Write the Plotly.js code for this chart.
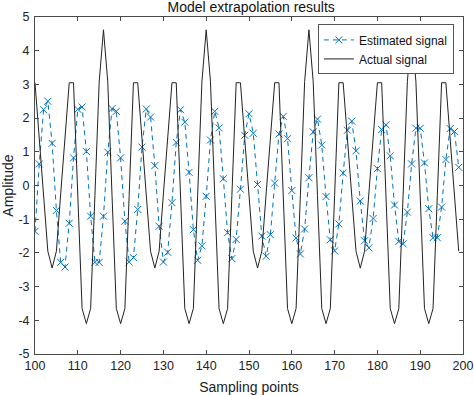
<!DOCTYPE html>
<html>
<head>
<meta charset="utf-8">
<script src="https://cdn.plot.ly/plotly-3.0.1.min.js"></script>
<style>html,body{margin:0;padding:0;background:#fff;}#chart{width:474px;height:395px;}</style>
</head>
<body>
<div id="chart"></div>
<script>
// Sampling points 100..199
var samplingPoints = [100,101,102,103,104,105,106,107,108,109,110,111,112,113,114,115,116,117,118,119,120,121,122,123,124,125,126,127,128,129,130,131,132,133,134,135,136,137,138,139,140,141,142,143,144,145,146,147,148,149,150,151,152,153,154,155,156,157,158,159,160,161,162,163,164,165,166,167,168,169,170,171,172,173,174,175,176,177,178,179,180,181,182,183,184,185,186,187,188,189,190,191,192,193,194,195,196,197,198,199];

var estimatedSignal = [
 -1.36, 0.64, 2.25, 2.50, 1.25, -0.74, -2.28, -2.42, -1.12, 0.82,
  2.26, 2.33, 1.01, -0.91, -2.28, -2.28, -0.91, 0.99, 2.28, 2.20,
  0.82, -1.06, -2.27, -2.14, -0.71, 1.14, 2.27, 2.03, 0.59, -1.21,
 -2.27, -1.98, -0.51, 1.28, 2.25, 1.88, 0.39, -1.31, -2.22, -1.79,
 -0.32, 1.35, 2.20, 1.71, 0.20, -1.40, -2.17, -1.60, -0.11, 1.49,
  2.13, 1.55, 0.03, -1.50, -2.10, -1.46, 0.07, 1.53, 2.05, 1.39,
 -0.15, -1.56, -2.03, -1.29, 0.23, 1.59, 1.97, 1.20, -0.33, -1.61,
 -1.94, -1.14, 0.37, 1.64, 1.91, 1.03, -0.46, -1.64, -1.85, -0.98,
  0.50, 1.66, 1.80, 0.88, -0.58, -1.66, -1.73, -0.79, 0.64, 1.70,
  1.70, 0.67, -0.69, -1.55, -1.55, -0.64, 0.77, 1.69, 1.60, 0.54
];

var actualSignal = [
  3.05, 1.45, -0.25, -1.95, -2.45, -1.95, -0.25, 1.45, 3.05, 3.05,
 -0.30, -3.65, -4.10, -3.65, -0.30, 3.08, 4.62, 3.08, -0.30, -3.65,
 -4.10, -3.65, -0.30, 3.05, 3.05, 1.45, -0.25, -1.95, -2.45, -1.95,
 -0.25, 1.45, 3.05, 3.05, -0.30, -3.65, -4.10, -3.65, -0.30, 3.08,
  4.62, 3.08, -0.30, -3.65, -4.10, -3.65, -0.30, 3.05, 3.05, 1.45,
 -0.25, -1.95, -2.45, -1.95, -0.25, 1.45, 3.05, 3.05, -0.30, -3.65,
 -4.10, -3.65, -0.30, 3.08, 4.62, 3.08, -0.30, -3.65, -4.10, -3.65,
 -0.30, 3.05, 3.05, 1.45, -0.25, -1.95, -2.45, -1.95, -0.25, 1.45,
  3.05, 3.05, -0.30, -3.65, -4.10, -3.65, -0.30, 3.08, 4.62, 3.08,
 -0.30, -3.65, -4.10, -3.65, -0.30, 3.05, 3.05, 1.45, -0.25, -1.95
];

var seriesNames = ["Estimated signal", "Actual signal"];
var xTicks = [100,110,120,130,140,150,160,170,180,190,200];
var yTicks = [-5,-4,-3,-2,-1,0,1,2,3,4,5];

var font = "Liberation Sans, Arial, Helvetica, sans-serif";
var axisColor = "#4a4a4a";

var traces = [
  {
    x: samplingPoints, y: estimatedSignal, name: seriesNames[0],
    type: "scatter", mode: "lines+markers",
    line: {color: "#0072BD", width: 1, dash: "5px,4px"},
    marker: {symbol: "x-thin", size: 7, color: "#0072BD", line: {color: "#0072BD", width: 1}}
  },
  {
    x: samplingPoints, y: actualSignal, name: seriesNames[1],
    type: "scatter", mode: "lines",
    line: {color: "#222222", width: 1}
  }
];

var layout = {
  width: 474, height: 395,
  margin: {l: 35, r: 11, t: 17, b: 41, pad: 0},
  paper_bgcolor: "#ffffff", plot_bgcolor: "#ffffff",
  font: {family: font, size: 12, color: "#222"},
  showlegend: true,
  title: {text: "Model extrapolation results", font: {family: font, size: 14, color: "#111"},
          x: 0.53, xanchor: "center", y: 0.981, yanchor: "middle", yref: "container"},
  xaxis: {
    range: [100, 200], tickvals: xTicks, ticktext: xTicks.map(String),
    showgrid: false, zeroline: false, showline: true, linecolor: axisColor, linewidth: 1,
    mirror: "ticks", ticks: "inside", ticklen: 4, tickwidth: 1, tickcolor: axisColor,
    tickfont: {family: font, size: 12.5, color: "#222"},
    title: {text: "Sampling points", font: {family: font, size: 14, color: "#222"}, standoff: 10},
    automargin: false
  },
  yaxis: {
    range: [-5, 5], tickvals: yTicks, ticktext: yTicks.map(String),
    showgrid: false, zeroline: false, showline: true, linecolor: axisColor, linewidth: 1,
    mirror: "ticks", ticks: "inside", ticklen: 4, tickwidth: 1, tickcolor: axisColor,
    tickfont: {family: font, size: 12.5, color: "#222"},
    ticklabelstandoff: 2,
    title: {text: "Amplitude", font: {family: font, size: 14, color: "#222"}, standoff: 2},
    automargin: false
  },
  legend: {
    x: 0.661, y: 0.978, xanchor: "left", yanchor: "top",
    bgcolor: "#ffffff", bordercolor: "#555555", borderwidth: 1,
    font: {family: font, size: 12, color: "#111"},
    tracegroupgap: 0, itemwidth: 30
  }
};

Plotly.newPlot("chart", traces, layout, {staticPlot: true, displayModeBar: false});
</script>
</body>
</html>
